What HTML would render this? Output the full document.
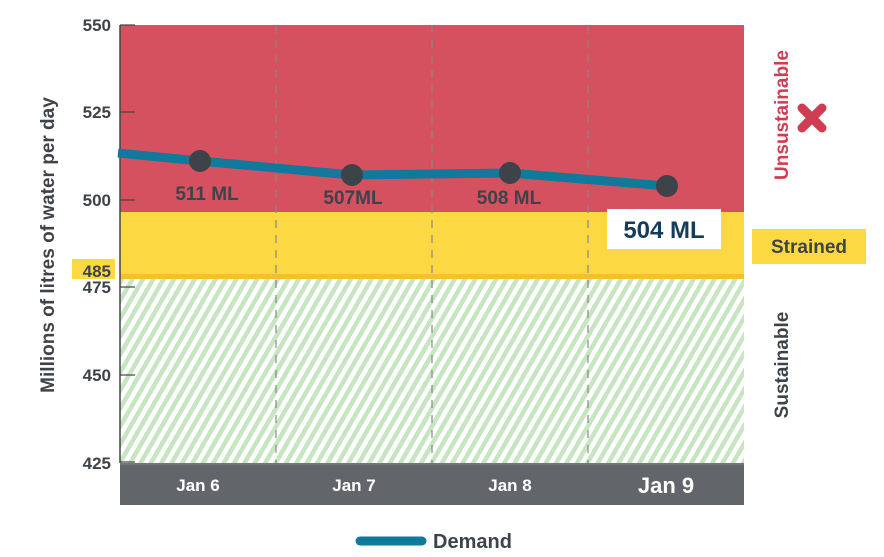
<!DOCTYPE html>
<html><head><meta charset="utf-8"><style>
body{margin:0;background:#fff;}
svg{display:block;font-family:"Liberation Sans",sans-serif;font-weight:bold;}
</style></head><body>
<svg width="884" height="557" viewBox="0 0 884 557">
<defs>
<pattern id="h" width="9" height="9" patternUnits="userSpaceOnUse" patternTransform="rotate(30)">
<rect width="9" height="9" fill="#fff"/><rect width="4.5" height="9" fill="#c6e5c0"/>
</pattern>
</defs>
<rect x="120" y="25" width="624" height="187" fill="#d55160"/>
<rect x="120" y="212" width="624" height="62" fill="#fcd943"/>
<rect x="120" y="274" width="624" height="5" fill="#f6bf2f"/>
<rect x="120" y="279" width="624" height="184" fill="url(#h)"/>
<g stroke="#888" stroke-width="1.2" stroke-dasharray="8,7">
<line x1="276" y1="25" x2="276" y2="463"/><line x1="432" y1="25" x2="432" y2="463"/><line x1="588" y1="25" x2="588" y2="463"/>
</g>
<line x1="120" y1="25" x2="120" y2="463" stroke="#444" stroke-width="1.5"/>
<g stroke="#444" stroke-width="1.2">
<line x1="120" y1="25" x2="135" y2="25"/><line x1="120" y1="112" x2="135" y2="112"/><line x1="120" y1="200" x2="135" y2="200"/><line x1="120" y1="287" x2="135" y2="287"/><line x1="120" y1="375" x2="135" y2="375"/><line x1="120" y1="462" x2="135" y2="462"/>
</g>
<g fill="#3d4349" font-size="17" text-anchor="end">
<text x="111" y="31">550</text><text x="111" y="118">525</text><text x="111" y="206">500</text><text x="111" y="293">475</text><text x="111" y="381">450</text><text x="111" y="469">425</text>
</g>
<rect x="72" y="259" width="43" height="20" fill="#fcd943"/>
<text x="111" y="277" text-anchor="end" font-size="17" fill="#3d4349">485</text>
<text transform="translate(54,245) rotate(-90)" text-anchor="middle" font-size="19" fill="#3d4349">Millions of litres of water per day</text>
<rect x="120" y="463" width="624" height="42" fill="#626569"/>
<line x1="120" y1="464" x2="744" y2="464" stroke="#888" stroke-width="1"/>
<g fill="#fff" text-anchor="middle" font-size="17">
<text x="198" y="491">Jan 6</text><text x="354" y="491">Jan 7</text><text x="510" y="491">Jan 8</text><text x="666" y="493" font-size="22">Jan 9</text>
</g>
<polyline points="118,153 200,161 352,175 510,173 667,186" fill="none" stroke="#11799b" stroke-width="9" stroke-linejoin="round"/>
<g fill="#3d4349"><circle cx="200" cy="161" r="11"/><circle cx="352" cy="175" r="11"/><circle cx="510" cy="173" r="11"/><circle cx="667" cy="186" r="11"/></g>
<g fill="#3d4349" font-size="19">
<text x="207" y="200" text-anchor="middle">511 ML</text><text x="353" y="204" text-anchor="middle">507ML</text><text x="509" y="204" text-anchor="middle">508 ML</text>
</g>
<rect x="607" y="209" width="114" height="40" fill="#fff"/>
<text x="664" y="238" text-anchor="middle" font-size="24" fill="#153c5a">504 ML</text>
<rect x="752" y="229" width="114" height="35" fill="#fcd943"/>
<text x="809" y="253" text-anchor="middle" font-size="19" fill="#3d4349">Strained</text>
<text transform="translate(788,115) rotate(-90)" text-anchor="middle" font-size="19" fill="#d03c51">Unsustainable</text>
<text transform="translate(788,365) rotate(-90)" text-anchor="middle" font-size="19" fill="#3d4349">Sustainable</text>
<g stroke="#d03c51" stroke-width="9" stroke-linecap="round"><line x1="802" y1="108" x2="822" y2="128"/><line x1="822" y1="108" x2="802" y2="128"/></g>
<line x1="360" y1="541" x2="422" y2="541" stroke="#11799b" stroke-width="9" stroke-linecap="round"/>
<text x="433" y="548" font-size="20" fill="#3d4349">Demand</text>
</svg>
</body></html>
